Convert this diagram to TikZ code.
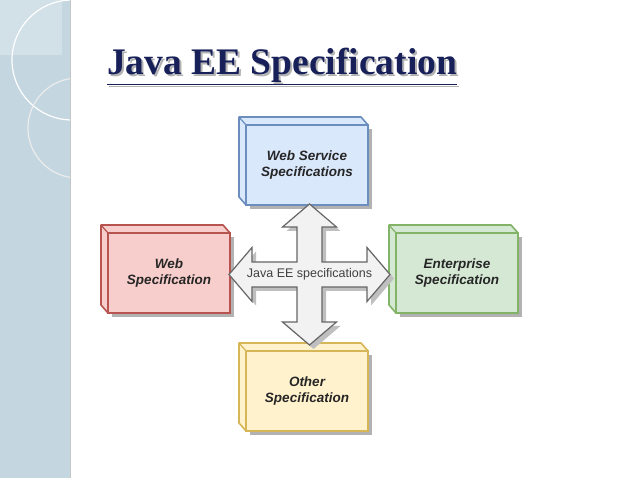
\documentclass[tikz,border=0pt]{standalone}
\usepackage{fontspec}
\setmainfont{Liberation Sans}
\newfontfamily\titlefont{Liberation Serif}
\begin{document}
\begin{tikzpicture}[x=1pt,y=-1pt,
  lbl/.style={font=\bfseries\itshape\fontsize{13.5}{16.5}\selectfont,align=center,text=black!85}]
\definecolor{navy}{HTML}{18205A}
\definecolor{strip}{HTML}{C4D6E0}
\useasboundingbox (0,0) rectangle (638,478);
\fill[white] (0,0) rectangle (638,478);
% side strip
\fill[strip] (0,0) rectangle (70,478);
\fill[white,opacity=0.25] (0,0) rectangle (62,55);
\draw[gray!45,line width=1pt] (70,0) -- (70,478);
\begin{scope}
\clip (0,0) rectangle (70,478);
\draw[white,line width=1.2pt] (72,60) circle (60);
\draw[white!85!gray,line width=1.2pt] (78,128) circle (50);
\end{scope}
% title
\newcommand\ttl{\titlefont\bfseries\fontsize{37.5}{42}\selectfont}
\node[anchor=base west,inner sep=0,text=black!30,font=\ttl] at (109,77) {\underline{Java EE Specification}};
\node[anchor=base west,inner sep=0,text=navy,font=\ttl] (title) at (107,75) {\underline{Java EE Specification}};
% boxes
\newcommand\cube[7]{%
  \fill[black!30] (#1+4,#2+4) rectangle (#3+4,#4+4);
  \filldraw[fill=#5,draw=#6,line width=1.6pt,line join=round] (#1-7,#2-8) -- (#3-7,#2-8) -- (#3,#2) -- (#3,#4) -- (#1,#4) -- (#1-7,#4-8) -- cycle;
  \draw[#6,line width=1.6pt,fill=#5] (#1,#2) rectangle (#3,#4);
  \draw[#6,line width=1.2pt] (#1-7,#2-8) -- (#1,#2);
  \node[lbl] (#7) at ({(#1+#3)/2},{(#2+#4)/2}) {};
}
\definecolor{bf}{HTML}{DAE8FC}\definecolor{bd}{HTML}{6C8EBF}
\definecolor{rf}{HTML}{F8CECC}\definecolor{rd}{HTML}{B85450}
\definecolor{gf}{HTML}{D5E8D4}\definecolor{gd}{HTML}{82B366}
\definecolor{yf}{HTML}{FFF2CC}\definecolor{yd}{HTML}{D6B656}
\cube{246}{125}{368}{205}{bf}{bd}{ws}
\cube{108}{233}{230}{313}{rf}{rd}{web}
\cube{396}{233}{518}{313}{gf}{gd}{ent}
\cube{246}{351}{368}{431}{yf}{yd}{oth}
\node[lbl] at (ws) {Web Service\\Specifications};
\node[lbl] at (web) {Web\\Specification};
\node[lbl] at (ent) {Enterprise\\Specification};
\node[lbl] at (oth) {Other\\Specification};
% cross arrow
\newcommand\crosspath{(-12.5,-12.5)
  -- ++(0,-35) -- ++(-14.5,0) -- ++(27,-23) -- ++(27,23) -- ++(-14.5,0) -- ++(0,35)
  -- ++(45,0) -- ++(0,-14.5) -- ++(23,27) -- ++(-23,27) -- ++(0,-14.5) -- ++(-45,0)
  -- ++(0,35) -- ++(14.5,0) -- ++(-27,23) -- ++(-27,-23) -- ++(14.5,0) -- ++(0,-35)
  -- ++(-45,0) -- ++(0,14.5) -- ++(-23,-27) -- ++(23,-27) -- ++(0,14.5) -- cycle}
\begin{scope}[shift={(313.5,278.5)}]
\fill[black!25] \crosspath;
\end{scope}
\begin{scope}[shift={(309.5,274.5)}]
\filldraw[fill=black!5,draw=black!60,line width=1.2pt,line join=miter] \crosspath;
\end{scope}
\node[fill=black!5,inner sep=1pt,font=\fontsize{12.5}{14}\selectfont,text=black!75] (cross) at (309.5,274) {Java EE specifications};
\end{tikzpicture}
\end{document}
